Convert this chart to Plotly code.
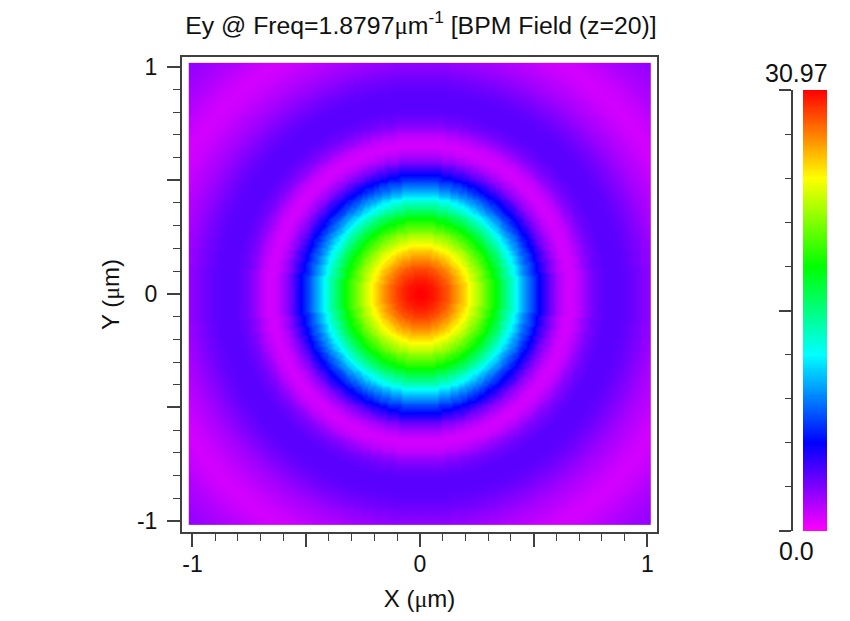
#%% IMPORTS
import numpy as np
import plotly.graph_objects as go

#%% DATA
fieldMax = 30.97
tickVals = [-1, -0.5, 0, 0.5, 1]
tickText = ['-1', '', '0', '', '1']

#radial profile of the field, one value every 0.0125 um, as fraction of fieldMax
radiusStep = 0.0125
radialProfile = [
    1.000, 0.999, 0.995, 0.991, 0.985, 0.978, 0.970, 0.960, 0.950, 0.938,
    0.925, 0.910, 0.895, 0.878, 0.860, 0.843, 0.825, 0.805, 0.785, 0.765,
    0.745, 0.723, 0.700, 0.678, 0.655, 0.633, 0.610, 0.585, 0.560, 0.533,
    0.505, 0.478, 0.450, 0.423, 0.395, 0.368, 0.340, 0.315, 0.290, 0.267,
    0.245, 0.222, 0.200, 0.177, 0.155, 0.132, 0.110, 0.092, 0.075, 0.062,
    0.050, 0.041, 0.035, 0.036, 0.040, 0.047, 0.055, 0.067, 0.080, 0.090,
    0.100, 0.108, 0.115, 0.120, 0.125, 0.128, 0.130, 0.130, 0.130, 0.129,
    0.128, 0.127, 0.125, 0.122, 0.118, 0.114, 0.110, 0.105, 0.100, 0.095,
    0.090, 0.085, 0.080, 0.075, 0.070, 0.066, 0.062, 0.058, 0.055, 0.051,
    0.047, 0.043, 0.040, 0.038, 0.036, 0.035, 0.035, 0.037, 0.040, 0.042,
    0.045, 0.048, 0.052, 0.056, 0.060, 0.062, 0.065, 0.067, 0.070, 0.072,
    0.075, 0.078, 0.080, 0.082, 0.083, 0.084, 0.085,
]
colorStops = ['#ff00ff', '#0000ff', '#00ffff', '#00ff00', '#ffff00', '#ff0000']

#%% FIELD GRID
#the field is round, each cell takes the profile value of its radius
profile = np.array(radialProfile) * fieldMax
xGrid = np.linspace(-1.01, 1.01, 163)
radius = np.hypot(*np.meshgrid(xGrid, xGrid))
index = np.clip(np.rint(radius / radiusStep).astype(int), 0, len(profile) - 1)
field = profile[index]

colorscale = [[i / (len(colorStops) - 1), c] for i, c in enumerate(colorStops)]
barLevels = np.linspace(0, fieldMax, 256)

#%% FIGURE
W, H = 850, 621
textColor = '#111111'
lineColor = '#404040'
muSpan = "<span style='font-family:Liberation Serif'>\u03bc</span>"

fig = go.Figure()
fig.add_trace(go.Heatmap(x=xGrid, y=xGrid, z=field, zmin=0, zmax=fieldMax,
    colorscale=colorscale, zsmooth='best', showscale=False, hoverinfo='skip'))
fig.add_trace(go.Heatmap(x=[0, 1], y=barLevels, z=np.column_stack([barLevels, barLevels]),
    zmin=0, zmax=fieldMax, colorscale=colorscale, showscale=False, hoverinfo='skip',
    xaxis='x2', yaxis='y2'))

mainAxis = dict(tickmode='array', tickvals=tickVals, ticktext=tickText, ticks='outside',
    ticklen=13, tickwidth=1.5, tickcolor=lineColor, automargin=False,
    minor=dict(ticks='outside', ticklen=7, tickwidth=1.2, tickcolor=lineColor, tick0=-1, dtick=0.1),
    showline=True, linecolor=lineColor, linewidth=2, mirror=True, showgrid=False, zeroline=False,
    tickfont=dict(size=23, color=textColor))

fig.update_layout(
    width=W, height=H, margin=dict(l=0, r=0, t=0, b=0),
    paper_bgcolor='white', plot_bgcolor='white',
    font=dict(family='Liberation Sans', size=23, color=textColor),
    title=dict(text=f'Ey @ Freq=1.8797{muSpan}m<sup>-1</sup> [BPM Field (z=20)]',
        x=421 / W, xanchor='center', y=1 - 25 / H, yanchor='middle', font=dict(size=24.8)),
    xaxis=dict(mainAxis, domain=[182 / W, 657 / W], range=[-1.046, 1.042], anchor='y',
        ticklabelstandoff=-3,
        title=dict(text=f'X ({muSpan}m)', standoff=15, font=dict(size=24))),
    yaxis=dict(mainAxis, domain=[1 - 532 / H, 1 - 57 / H], range=[-1.048, 1.042], anchor='x',
        ticklabelstandoff=5,
        title=dict(text=f'Y ({muSpan}m)', standoff=11, font=dict(size=24))),
    xaxis2=dict(domain=[803 / W, 827 / W], range=[-0.5, 1.5], visible=False, anchor='y2',
        automargin=False),
    yaxis2=dict(domain=[1 - 531 / H, 1 - 90 / H], range=[0, fieldMax], anchor='free',
        position=791.5 / W, side='left', showline=True, linecolor=lineColor, linewidth=1.5,
        automargin=False,
        showgrid=False, zeroline=False, showticklabels=False, tick0=0, dtick=fieldMax / 2,
        ticks='outside', ticklen=12, tickwidth=1.5, tickcolor=lineColor,
        minor=dict(ticks='outside', ticklen=6, tickwidth=1.2, tickcolor=lineColor,
            tick0=0, dtick=fieldMax / 10)),
    annotations=[
        dict(text=f'{fieldMax:.2f}', xref='paper', yref='paper', x=796 / W, y=1 - 73 / H,
            xanchor='center', yanchor='middle', showarrow=False, font=dict(size=25)),
        dict(text='0.0', xref='paper', yref='paper', x=796 / W, y=1 - 551 / H,
            xanchor='center', yanchor='middle', showarrow=False, font=dict(size=25)),
    ],
)

#browser default body margin would shift the whole page
fig.write_html("out.html", config={'displayModeBar': False},
    post_script="document.body.style.margin='0';")
